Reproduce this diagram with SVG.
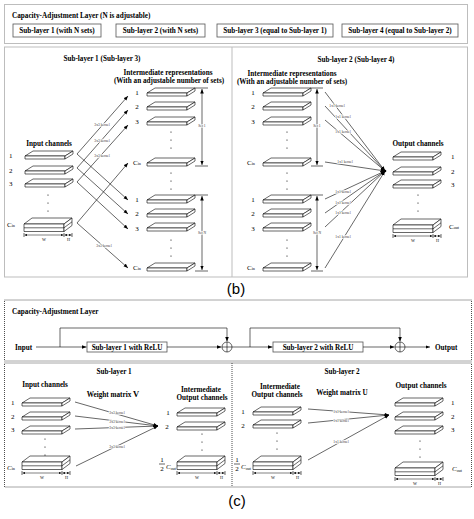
<svg xmlns="http://www.w3.org/2000/svg" width="474" height="519" viewBox="0 0 474 519">
<style>
text{font-family:"Liberation Serif","Times New Roman",serif;fill:#000}
.t{font-size:7.2px;font-weight:bold}
.n{font-size:7px}
.k{font-size:3.6px;fill:#333;paint-order:stroke;stroke:#fff;stroke-width:1.2px}
.d{font-size:4.2px;text-anchor:middle}
.c{text-anchor:middle}
.box{fill:none;stroke:#bdbdbd;stroke-width:1}
.sb{fill:#fff;stroke:#555;stroke-width:0.8}
.dt{fill:none;stroke:#000;stroke-width:0.7;stroke-dasharray:1 1}
.ln{stroke:#000;stroke-width:0.6;fill:none}
.pl{fill:#fff;stroke:#000;stroke-width:0.6;stroke-linejoin:round}
.lab{font-size:15px;font-family:"Liberation Sans",Arial,sans-serif;text-anchor:middle}
</style>
<defs>
<marker id="ah" viewBox="0 0 10 10" refX="10" refY="5" markerWidth="4.5" markerHeight="4.5" markerUnits="userSpaceOnUse" orient="auto-start-reverse"><path d="M0,1 L10,5 L0,9 Z" fill="#000"/></marker>
<marker id="as" viewBox="0 0 10 10" refX="10" refY="5" markerWidth="2.5" markerHeight="2.5" markerUnits="userSpaceOnUse" orient="auto-start-reverse"><path d="M0,1 L10,5 L0,9 Z" fill="#000"/></marker>
<g id="plate" class="pl">
<path d="M0,5 L8,0 L48,0 L40,5 Z"/>
<rect x="0" y="5" width="40" height="3"/>
<path d="M40,5 L48,0 L48,3 L40,8 Z"/>
</g>
<g id="big">
<g class="pl">
<path d="M0,6 L8,0 L48,0 L40,6 Z"/>
<rect x="0" y="6" width="40" height="7.5"/>
<path d="M40,6 L48,0 L48,7.5 L40,13.5 Z"/>
</g>
<path class="ln" d="M0,9.8 H40 L48,3.8"/>
<path class="ln" d="M0,15 V19 M40,15 V19 M48,15 V19"/>
<path class="ln" style="stroke-width:0.5" d="M0.5,17 H39.5" marker-start="url(#as)" marker-end="url(#as)"/>
<path class="ln" style="stroke-width:0.5" d="M40.5,17 H47.5" marker-start="url(#as)" marker-end="url(#as)"/>
<text class="d" x="20" y="22.5">W</text>
<text class="d" x="44.5" y="22.5">H</text>
</g>
<g id="dots3"><circle cx="0" cy="0" r="0.6"/><circle cx="0" cy="8" r="0.6"/><circle cx="0" cy="16" r="0.6"/></g>
</defs>

<!-- ===== (b) top layer box ===== -->
<g id="capacity-b">
<rect class="box" x="4.5" y="4.5" width="463" height="39"/>
<text class="t" x="12" y="17.5">Capacity-Adjustment Layer (N is adjustable)</text>
</g>
<g id="sublayer1-b"><rect class="sb" x="13" y="24" width="88" height="13"/><text class="t c" x="57" y="33">Sub-layer 1 (with N sets)</text></g>
<g id="sublayer2-b"><rect class="sb" x="116" y="24" width="89" height="13"/><text class="t c" x="160.5" y="33">Sub-layer 2 (with N sets)</text></g>
<g id="sublayer3-b"><rect class="sb" x="217" y="24" width="116" height="13"/><text class="t c" x="275" y="33">Sub-layer 3 (equal to Sub-layer 1)</text></g>
<g id="sublayer4-b"><rect class="sb" x="342" y="24" width="116" height="13"/><text class="t c" x="400" y="33">Sub-layer 4 (equal to Sub-layer 2)</text></g>

<!-- ===== (b) panels ===== -->
<g id="panels-b">
<rect class="box" x="4.5" y="47" width="463" height="230"/>
<line x1="232" y1="47" x2="232" y2="277" stroke="#bdbdbd" stroke-width="1"/>
<text class="t c" x="102" y="61">Sub-layer 1 (Sub-layer 3)</text>
<text class="t c" x="356" y="62">Sub-layer 2 (Sub-layer 4)</text>
</g>

<g id="input-b">
<text class="t c" x="49" y="146">Input channels</text>
<use href="#plate" x="25" y="151"/>
<use href="#plate" x="25" y="166"/>
<use href="#plate" x="25" y="179"/>
<use href="#dots3" x="48" y="195"/>
<use href="#big" x="24" y="218"/>
<text class="n" x="9" y="157.5">1</text>
<text class="n" x="9" y="172.5">2</text>
<text class="n" x="9" y="185.5">3</text>
<text class="n" x="7" y="226.5">C<tspan font-size="4.2">in</tspan></text>
</g>

<g id="inter-left-b">
<text class="t c" x="168" y="75">Intermediate representations</text>
<text class="t c" x="169" y="83">(With an adjustable number of sets)</text>
<use href="#plate" x="147" y="88"/>
<use href="#plate" x="147" y="102"/>
<use href="#plate" x="147" y="117"/>
<use href="#dots3" x="171" y="132"/>
<use href="#plate" x="147" y="158"/>
<use href="#dots3" x="171" y="173"/>
<use href="#plate" x="147" y="195"/>
<use href="#plate" x="147" y="209"/>
<use href="#plate" x="147" y="223"/>
<use href="#dots3" x="171" y="240"/>
<use href="#plate" x="147" y="263"/>
<text class="n c" x="137" y="94.5">1</text>
<text class="n c" x="137" y="109">2</text>
<text class="n c" x="137" y="123.5">3</text>
<text class="n" x="133" y="165">C<tspan font-size="4.2">in</tspan></text>
<text class="n c" x="137" y="201.5">1</text>
<text class="n c" x="137" y="216">2</text>
<text class="n c" x="137" y="230.5">3</text>
<text class="n" x="133" y="270">C<tspan font-size="4.2">in</tspan></text>
<path class="ln" d="M195,88 H208 M195,166 H208 M195,195 H208 M195,271 H208"/>
<path class="ln" d="M202,89 V165" marker-start="url(#ah)" marker-end="url(#ah)"/>
<path class="ln" d="M202,196 V270" marker-start="url(#ah)" marker-end="url(#ah)"/>
<text class="k c" x="202" y="127">Set 1</text>
<text class="k c" x="202" y="234">Set N</text>
</g>

<g id="inter-right-b">
<text class="t c" x="292" y="75.5">Intermediate representations</text>
<text class="t c" x="292" y="83.5">(With an adjustable number of sets)</text>
<use href="#plate" x="263" y="88"/>
<use href="#plate" x="263" y="102"/>
<use href="#plate" x="263" y="117"/>
<use href="#dots3" x="287" y="132"/>
<use href="#plate" x="263" y="158"/>
<use href="#dots3" x="287" y="173"/>
<use href="#plate" x="263" y="195"/>
<use href="#plate" x="263" y="209"/>
<use href="#plate" x="263" y="223"/>
<use href="#dots3" x="287" y="240"/>
<use href="#plate" x="263" y="263"/>
<text class="n c" x="253" y="94.5">1</text>
<text class="n c" x="253" y="109">2</text>
<text class="n c" x="253" y="123.5">3</text>
<text class="n" x="247" y="165">C<tspan font-size="4.2">in</tspan></text>
<text class="n c" x="253" y="201.5">1</text>
<text class="n c" x="253" y="216">2</text>
<text class="n c" x="253" y="230.5">3</text>
<text class="n" x="247" y="270">C<tspan font-size="4.2">in</tspan></text>
<path class="ln" d="M311,88 H323 M311,166 H323 M311,195 H323 M311,271 H323"/>
<path class="ln" d="M317,89 V165" marker-start="url(#ah)" marker-end="url(#ah)"/>
<path class="ln" d="M317,196 V270" marker-start="url(#ah)" marker-end="url(#ah)"/>
<text class="k c" x="317" y="127">Set 1</text>
<text class="k c" x="317" y="234">Set N</text>
</g>

<g id="output-b">
<text class="t c" x="418" y="146">Output channels</text>
<use href="#plate" x="393" y="152"/>
<use href="#plate" x="393" y="167"/>
<use href="#plate" x="393" y="180"/>
<use href="#dots3" x="418" y="195"/>
<use href="#big" x="393" y="219"/>
<text class="n" x="451" y="158.5">1</text>
<text class="n" x="451" y="173.5">2</text>
<text class="n" x="451" y="186.5">3</text>
<text class="n" x="449" y="229">C<tspan font-size="4.2">out</tspan></text>
</g>

<!-- ===== (b) connectors ===== -->
<g id="connectors-b">
<path class="ln" d="M128,96 L77,154 L128,200" marker-start="url(#ah)" marker-end="url(#ah)"/>
<path class="ln" d="M128,110 L77,168 L128,214" marker-start="url(#ah)" marker-end="url(#ah)"/>
<path class="ln" d="M128,125 L77,182 L128,229" marker-start="url(#ah)" marker-end="url(#ah)"/>
<path class="ln" d="M128,163 L77,223 L128,268" marker-start="url(#ah)" marker-end="url(#ah)"/>
<text class="k c" x="102" y="126">3x3 kernel</text>
<text class="k c" x="102" y="141.5">3x3 kernel</text>
<text class="k c" x="102" y="157">3x3 kernel</text>
<text class="k c" x="104" y="247">3x3 kernel</text>

<path class="ln" d="M325,92 L385,171" marker-end="url(#ah)"/>
<path class="ln" d="M325,106 L385,171" marker-end="url(#ah)"/>
<path class="ln" d="M325,120 L385,171" marker-end="url(#ah)"/>
<path class="ln" d="M325,162 L385,171" marker-end="url(#ah)"/>
<path class="ln" d="M325,199 L385,171" marker-end="url(#ah)"/>
<path class="ln" d="M325,213 L385,171" marker-end="url(#ah)"/>
<path class="ln" d="M325,227 L385,171" marker-end="url(#ah)"/>
<path class="ln" d="M325,268 L385,171" marker-end="url(#ah)"/>
<circle cx="385" cy="171" r="1.3" fill="#000"/>
<text class="k c" x="337" y="107">1x1 kernel</text>
<text class="k c" x="343" y="118">1x1 kernel</text>
<text class="k c" x="343" y="133">1x1 kernel</text>
<text class="k c" x="345" y="163">1x1 kernel</text>
<text class="k c" x="343" y="193">1x1 kernel</text>
<text class="k c" x="343" y="204">1x1 kernel</text>
<text class="k c" x="343" y="214">1x1 kernel</text>
<text class="k c" x="343" y="238">1x1 kernel</text>
</g>
<text class="lab" x="236" y="294">(b)</text>

<!-- ===== (c) ===== -->
<g id="capacity-c">
<rect class="dt" x="4.5" y="300" width="467" height="61"/>
<text class="t" x="12" y="314">Capacity-Adjustment Layer</text>
<text class="t" x="15" y="349.5">Input</text>
<text class="t" x="435" y="349.5">Output</text>
</g>
<g id="sub1-relu"><rect class="sb" x="87" y="342" width="80" height="10"/><text class="t c" x="127" y="349.5">Sub-layer 1 with ReLU</text></g>
<g id="sub2-relu"><rect class="sb" x="273" y="342" width="90" height="10"/><text class="t c" x="318" y="349.5">Sub-layer 2 with ReLU</text></g>
<g id="add1"><circle class="ln" cx="227" cy="347" r="5" style="fill:#fff"/><path class="ln" d="M222,347 H232 M227,342 V352"/></g>
<g id="add2"><circle class="ln" cx="400" cy="347" r="5" style="fill:#fff"/><path class="ln" d="M395,347 H405 M400,342 V352"/></g>
<g id="connectors-c-top">
<path class="ln" d="M36,347 H86.5" marker-end="url(#ah)"/>
<path class="ln" d="M60,347 V328 H227 V341.5" marker-end="url(#ah)"/>
<path class="ln" d="M167,347 H221.5" marker-end="url(#ah)"/>
<path class="ln" d="M232,347 H272.5" marker-end="url(#ah)"/>
<path class="ln" d="M250,347 V328 H400 V341.5" marker-end="url(#ah)"/>
<path class="ln" d="M363,347 H394.5" marker-end="url(#ah)"/>
<path class="ln" d="M405,347 H430" marker-end="url(#ah)"/>
</g>

<g id="panels-c">
<rect class="dt" x="4.5" y="363" width="467" height="124"/>
<line class="dt" x1="232" y1="363" x2="232" y2="487"/>
<text class="t c" x="114" y="373.5">Sub-layer 1</text>
<text class="t c" x="342" y="373.5">Sub-layer 2</text>
</g>

<g id="input-c">
<text class="t c" x="45" y="387">Input channels</text>
<use href="#plate" x="22" y="398"/>
<use href="#plate" x="22" y="412"/>
<use href="#plate" x="22" y="426"/>
<use href="#dots3" x="45" y="439"/>
<use href="#big" x="22" y="456"/>
<text class="n" x="11" y="405">1</text>
<text class="n" x="11" y="418.5">2</text>
<text class="n" x="11" y="432">3</text>
<text class="n" x="7" y="470" font-style="italic">C<tspan font-size="4.2" font-style="normal">in</tspan></text>
</g>
<text class="t c" x="113" y="397">Weight matrix <tspan font-size="8.5">V</tspan></text>

<g id="inter-c-left">
<text class="t c" x="201" y="392">Intermediate</text>
<text class="t c" x="202" y="399.5">Output channels</text>
<use href="#plate" x="177" y="408"/>
<use href="#plate" x="177" y="422"/>
<use href="#dots3" x="202" y="434"/>
<use href="#big" x="177" y="456"/>
<text class="n c" x="168" y="414.5">1</text>
<text class="n c" x="167" y="429">2</text>
<text class="n c" x="162" y="462" font-size="6">1</text>
<line class="ln" x1="159" y1="464" x2="165" y2="464"/>
<text class="n c" x="162" y="470.5" font-size="6">2</text>
<text class="n" x="166" y="469" font-style="italic">C<tspan font-size="4" font-style="normal" dy="1">out</tspan></text>
</g>

<g id="connectors-c-v">
<path class="ln" d="M75,402 L158,426" marker-end="url(#ah)"/>
<path class="ln" d="M75,416 L158,426" marker-end="url(#ah)"/>
<path class="ln" d="M75,429 L158,426" marker-end="url(#ah)"/>
<path class="ln" d="M76,466 L158,426" marker-end="url(#ah)"/>
<text class="k c" x="117" y="414">3x3 kernel</text>
<text class="k c" x="117" y="422.5">3x3 kernel</text>
<text class="k c" x="117" y="429">3x3 kernel</text>
<text class="k c" x="117" y="448">3x3 kernel</text>
</g>

<g id="inter-c-right">
<text class="t c" x="280" y="389">Intermediate</text>
<text class="t c" x="277" y="397">Output channels</text>
<use href="#plate" x="253" y="407"/>
<use href="#plate" x="253" y="420"/>
<use href="#dots3" x="277" y="433"/>
<use href="#big" x="253" y="456"/>
<text class="n c" x="243" y="413.5">1</text>
<text class="n c" x="243" y="427.5">2</text>
<text class="n c" x="237" y="462" font-size="6">1</text>
<line class="ln" x1="234" y1="464" x2="240" y2="464"/>
<text class="n c" x="237" y="470.5" font-size="6">2</text>
<text class="n" x="241" y="469" font-style="italic">C<tspan font-size="4" font-style="normal" dy="1">out</tspan></text>
</g>
<text class="t c" x="342" y="395">Weight matrix U</text>

<g id="connectors-c-u">
<path class="ln" d="M308,409 L389,415" marker-end="url(#ah)"/>
<path class="ln" d="M308,423 L389,415" marker-end="url(#ah)"/>
<path class="ln" d="M308,460 L389,415" marker-end="url(#ah)"/>
<text class="k c" x="341" y="413">1x1 kernel</text>
<text class="k c" x="341" y="422">1x1 kernel</text>
<text class="k c" x="341" y="443">1x1 kernel</text>
</g>

<g id="output-c">
<text class="t c" x="421" y="388">Output channels</text>
<use href="#plate" x="395" y="398"/>
<use href="#plate" x="395" y="412"/>
<use href="#plate" x="395" y="426"/>
<use href="#dots3" x="420" y="441"/>
<use href="#big" x="395" y="462"/>
<text class="n" x="451" y="405">1</text>
<text class="n" x="451" y="418.5">2</text>
<text class="n" x="451" y="432">3</text>
<text class="n" x="452" y="471" font-style="italic">C<tspan font-size="4" font-style="normal" dy="1">out</tspan></text>
</g>
<text class="lab" x="237" y="506">(c)</text>
</svg>
